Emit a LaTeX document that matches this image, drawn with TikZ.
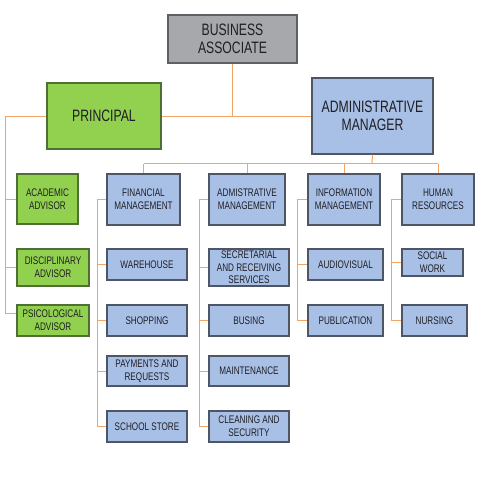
\documentclass[tikz,border=0pt]{standalone}
\usepackage{fontspec}
\setmainfont{Liberation Sans}[FakeStretch=0.74]
\definecolor{grayfill}{HTML}{A7A8AC}
\definecolor{grayline}{HTML}{5F6066}
\definecolor{greenfill}{HTML}{92D050}
\definecolor{greenline}{HTML}{4F6F35}
\definecolor{bluefill}{HTML}{A9C0E6}
\definecolor{blueline}{HTML}{4E5666}
\definecolor{conncol}{HTML}{F2A366}
\definecolor{txt}{HTML}{1E1E24}
\tikzset{
  boxbase/.style={draw, line width=1.1bp, inner sep=0pt, align=center, text=txt},
  bigtext/.style={font=\fontsize{16.5bp}{18.3bp}\selectfont},
  smalltext/.style={font=\fontsize{11bp}{12.7bp}\selectfont},
  graybox/.style={boxbase, fill=grayfill, draw=grayline, bigtext},
  greenbig/.style={boxbase, fill=greenfill, draw=greenline, bigtext},
  bluebig/.style={boxbase, fill=bluefill, draw=blueline, bigtext},
  greenbox/.style={boxbase, fill=greenfill, draw=greenline, smalltext},
  bluebox/.style={boxbase, fill=bluefill, draw=blueline, smalltext},
  conn/.style={draw=conncol, line width=1bp},
  wh/.style n args={2}{minimum width=#1bp, minimum height=#2bp}
}
\begin{document}
\begin{tikzpicture}[x=1bp,y=-1bp]
\fill[white] (0,0) rectangle (480,480);
\useasboundingbox (0,0) rectangle (480,480);

% top level
\node[graybox, wh={129}{48}] (ba) at (232.5,39) {BUSINESS\\ASSOCIATE};
\node[greenbig, wh={114}{66}] (pr) at (104,116) {PRINCIPAL};
\node[bluebig, wh={121}{76}] (am) at (372.5,116) {ADMINISTRATIVE\\MANAGER};

% advisors
\node[greenbox, wh={61}{50}] (aca) at (47.5,199) {ACADEMIC\\ADVISOR};
\node[greenbox, wh={72}{37}] (dis) at (53,267.5) {DISCIPLINARY\\ADVISOR};
\node[greenbox, wh={72}{31}] (psi) at (53,320.5) {PSICOLOGICAL\\ADVISOR};

% financial column
\node[bluebox, wh={73}{51}] (fm) at (143.5,199.5) {FINANCIAL\\MANAGEMENT};
\node[bluebox, wh={80}{31}] (whs) at (147,264.5) {WAREHOUSE};
\node[bluebox, wh={80}{31}] (sho) at (147,320.5) {SHOPPING};
\node[bluebox, wh={80}{30}] (pay) at (147,371) {PAYMENTS AND\\REQUESTS};
\node[bluebox, wh={80}{31}] (ss) at (147,426.5) {SCHOOL STORE};

% administrative column
\node[bluebox, wh={76}{51}] (adm) at (247,199.5) {ADMISTRATIVE\\MANAGEMENT};
\node[bluebox, wh={80}{37}] (sec) at (249,267.5) {SECRETARIAL\\AND RECEIVING\\SERVICES};
\node[bluebox, wh={80}{31}] (bus) at (249,320.5) {BUSING};
\node[bluebox, wh={80}{30}] (mai) at (249,371) {MAINTENANCE};
\node[bluebox, wh={80}{31}] (cle) at (249,426.5) {CLEANING AND\\SECURITY};

% information column
\node[bluebox, wh={72}{51}] (inf) at (344,199.5) {INFORMATION\\MANAGEMENT};
\node[bluebox, wh={75}{31}] (aud) at (345.5,264.5) {AUDIOVISUAL};
\node[bluebox, wh={75}{31}] (pub) at (345.5,320.5) {PUBLICATION};

% human resources column
\node[bluebox, wh={72}{51}] (hr) at (438,199.5) {HUMAN\\RESOURCES};
\node[bluebox, wh={61}{27}] (sw) at (432.5,262.5) {SOCIAL\\WORK};
\node[bluebox, wh={65}{31}] (nur) at (434.5,320.5) {NURSING};

% coordinates for trunks
\coordinate (lt) at (5,117);
\coordinate (psiw) at ([yshift=7bp]psi.west);
\coordinate (hb) at (372,164);
\coordinate (ft) at (97,0);
\coordinate (at) at (199,0);
\coordinate (it) at (297,0);
\coordinate (ht) at (391,0);

% top connectors
\draw[conn] (ba.south) -- (ba.south |- lt);
\draw[conn] (pr.east |- lt) -- (am.west |- lt);
\draw[conn] (pr.west |- lt) -- (lt) -- (lt |- psiw) -- (psiw);
\draw[conn] (lt |- aca.west) -- (aca.west);
\draw[conn] (lt |- dis.west) -- (dis.west);

% admin manager bus
\draw[conn] (am.south) -- (hb);
\draw[conn] (fm.north |- hb) -- (hr.north |- hb);
\draw[conn] (fm.north |- hb) -- (fm.north);
\draw[conn] (adm.north |- hb) -- (adm.north);
\draw[conn] (inf.north |- hb) -- (inf.north);
\draw[conn] (hr.north |- hb) -- (hr.north);

% financial trunk
\draw[conn] (fm.west) -- (ft |- fm.west) -- (ft |- ss.west) -- (ss.west);
\draw[conn] (ft |- whs.west) -- (whs.west);
\draw[conn] (ft |- sho.west) -- (sho.west);
\draw[conn] (ft |- pay.west) -- (pay.west);

% administrative trunk
\draw[conn] (adm.west) -- (at |- adm.west) -- (at |- cle.west) -- (cle.west);
\draw[conn] (at |- sec.west) -- (sec.west);
\draw[conn] (at |- bus.west) -- (bus.west);
\draw[conn] (at |- mai.west) -- (mai.west);

% information trunk
\draw[conn] (inf.west) -- (it |- inf.west) -- (it |- pub.west) -- (pub.west);
\draw[conn] (it |- aud.west) -- (aud.west);

% HR trunk
\draw[conn] (hr.west) -- (ht |- hr.west) -- (ht |- nur.west) -- (nur.west);
\draw[conn] (ht |- sw.west) -- (sw.west);
\end{tikzpicture}
\end{document}
